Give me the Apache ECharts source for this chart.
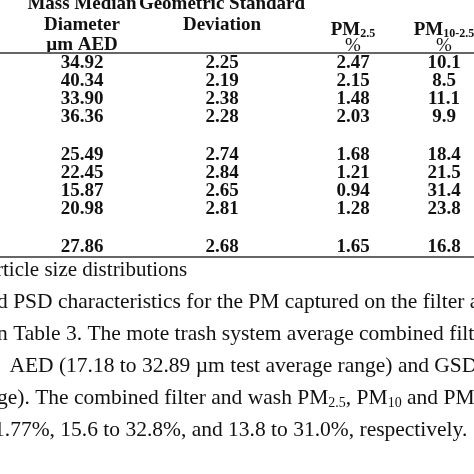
<!DOCTYPE html><html><head><meta charset="utf-8">
<script src="https://cdn.jsdelivr.net/npm/echarts@6/dist/echarts.min.js"></script>
<style>html,body{margin:0;padding:0;background:#fff}#c{width:474px;height:474px}</style></head><body><div id="c"></div>
<script>
const mmd = ['34.92','40.34','33.90','36.36','25.49','22.45','15.87','20.98','27.86'];
const gsd = ['2.25','2.19','2.38','2.28','2.74','2.84','2.65','2.81','2.68'];
const pm25 = ['2.47','2.15','1.48','2.03','1.68','1.21','0.94','1.28','1.65'];
const pm1025 = ['10.1','8.5','11.1','9.9','18.4','21.5','31.4','23.8','16.8'];
const rowY = [63,81,99,117,155,173,191,209,247];
const colX = [82,222,353,444];
const paragraph = [
 'd PSD characteristics for the PM captured on the filter a',
 'n Table 3. The mote trash system average combined filt',
 ' AED (17.18 to 32.89 \u00b5m test average range) and GSD',
 'ge). The combined filter and wash PM{s|2.5}, PM{s|10} and PM',
 '1.77%, 15.6 to 32.8%, and 13.8 to 31.0%, respectively.'
];
const paraY = [302,334,366,398,430];
const F = 'Liberation Serif';
const g = [];
function t(x,y,text,opt){g.push({type:'text',x:x,y:y,style:Object.assign({text:text,fontFamily:F,fontSize:19,fontWeight:'bold',fill:'#111',align:'center',verticalAlign:'middle'},opt||{})});}
t(colX[0],4,'Mass Median');t(colX[0],25,'Diameter');t(colX[0],45,'\u00b5m AED');
t(colX[1],4,'Geometric Standard');t(colX[1],25,'Deviation');
const sub={s:{fontSize:12,fontFamily:F,fontWeight:'bold',verticalAlign:'bottom',padding:[8,0,0,0]}};
t(colX[2],30,'PM{s|2.5}',{rich:sub});
t(colX[2],46,'%',{fontWeight:'normal'});
t(colX[3],30,'PM{s|10-2.5}',{rich:sub});
t(colX[3],46,'%',{fontWeight:'normal'});
[mmd,gsd,pm25,pm1025].forEach((arr,c)=>arr.forEach((v,i)=>t(colX[c],rowY[i],v)));
g.push({type:'line',shape:{x1:0,y1:53,x2:474,y2:53},style:{stroke:'#666',lineWidth:2}});
g.push({type:'line',shape:{x1:0,y1:257,x2:474,y2:257},style:{stroke:'#666',lineWidth:2}});
t(-4,270,'rticle size distributions',{fontSize:21,fontWeight:'normal',align:'left'});
paragraph.forEach((p,i)=>t(i===2?4:(i===4?-6:-3),paraY[i],p,{fontSize:21.5,fontWeight:'normal',align:'left',rich:{s:{fontSize:14,fontFamily:F,verticalAlign:'bottom',padding:[10,0,0,0]}}}));
const chart = echarts.init(document.getElementById('c'));
chart.setOption({animation:false,graphic:{elements:g}});
</script></body></html>
